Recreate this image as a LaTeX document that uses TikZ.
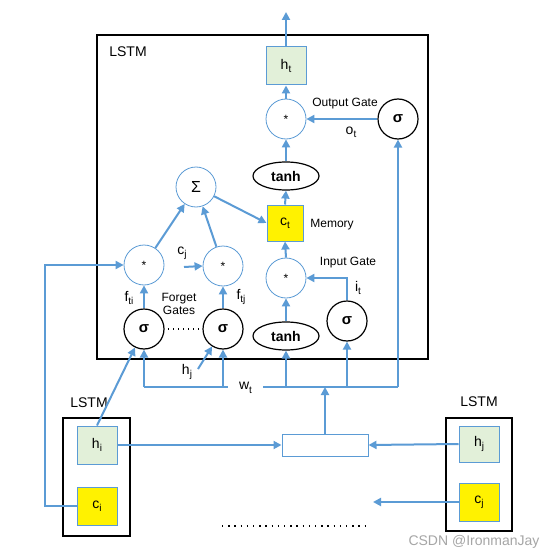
\documentclass[tikz,border=0pt]{standalone}
\usepackage{fontspec}
\setmainfont{Liberation Sans}
\usetikzlibrary{arrows.meta,shapes.geometric}
\definecolor{lb}{HTML}{5B9BD5}
\definecolor{hg}{HTML}{E2F0D9}
\definecolor{wm}{HTML}{A6A6A6}
\newcommand{\sbx}[1]{\raisebox{-0.45ex}{\fontsize{10}{10}\selectfont #1}}
\begin{document}
\begin{tikzpicture}[x=1pt,y=-1pt,
 conn/.style={draw=lb,line width=2pt},
 arr/.style={conn,-{Triangle[length=8pt,width=8pt]}},
 mul/.style={circle,draw=lb,line width=0.8pt,minimum size=40pt,inner sep=0pt,font=\fontsize{12}{12}\selectfont},
 sig/.style={circle,draw=black,line width=1.2pt,minimum size=40pt,inner sep=0pt,font=\fontsize{15}{15}\selectfont\bfseries},
 tnh/.style={ellipse,draw=black,line width=1.2pt,minimum width=66pt,minimum height=28pt,inner sep=0pt,font=\fontsize{14}{14}\selectfont\bfseries},
 hbox/.style={rectangle,draw=lb,line width=1pt,fill=hg,minimum width=40pt,minimum height=38pt,inner sep=0pt,font=\fontsize{14}{14}\selectfont},
 cbox/.style={rectangle,draw=lb,line width=1pt,fill=yellow,minimum width=40pt,minimum height=38pt,inner sep=0pt,font=\fontsize{14}{14}\selectfont},
 lbl/.style={font=\fontsize{12}{12}\selectfont,inner sep=0pt},
 sym/.style={font=\fontsize{14}{14}\selectfont,inner sep=0pt},
 lstmlbl/.style={font=\fontsize{14}{14}\selectfont,inner sep=0pt},
 frame/.style={rectangle,draw=black,line width=1.8pt,inner sep=0pt}
]
\useasboundingbox (0,0) rectangle (559,559);
\fill[white] (0,0) rectangle (559,559);

% main LSTM frame
\node[frame,minimum width=331pt,minimum height=324pt] (main) at (262.5,197) {};
\node[lstmlbl] (mainlbl) at (128,52) {LSTM};

% nodes inside
\node[hbox] (ht) at (286,66) {h\sbx{t}};
\node[mul] (mt) at (286,119) {*};
\node[sig] (so) at (398,119) {σ};
\node[tnh] (tt) at (286,176) {tanh};
\node[mul,font=\fontsize{16}{16}\selectfont] (sum) at (196,187) {Σ};
\node[cbox,minimum width=36pt,minimum height=36pt] (ct) at (285,223) {c\sbx{t}};
\node[mul] (mL) at (144,265) {*};
\node[mul] (mR) at (223,266) {*};
\node[mul] (mI) at (286,278) {*};
\node[sig] (fL) at (144,329) {σ};
\node[sig] (fR) at (223,329) {σ};
\node[tnh] (tb) at (286,336) {tanh};
\node[sig] (si) at (347,321) {σ};

% labels
\node[lbl] (og) at (345,104) {Output Gate};
\node[sym] (ot) at (351,132) {o\sbx{t}};
\node[lbl] (mem) at (332,225) {Memory};
\node[lbl] (ig) at (348,263) {Input Gate};
\node[sym] (it) at (358,288) {i\sbx{t}};
\node[sym] (cjl) at (182,253) {c\sbx{j}};
\node[sym] (fti) at (129,298) {f\sbx{ti}};
\node[sym] (ftj) at (241,297) {f\sbx{tj}};
\node[lbl,align=center] (fg) at (179,304) {Forget\\[1pt]Gates};
\node[sym] (hjl) at (187,372) {h\sbx{j}};
\draw[black,line width=1.3pt,dash pattern=on 1.3pt off 3.7pt] (168,329) -- (199,329);

% bus
\coordinate (bus) at (0,387);
\coordinate (top) at (286,12);
\coordinate (cjin) at (184,267);
\coordinate (hjin) at (198,369);

% connectors inside
\draw[arr] (ht.north) -- (top);
\draw[arr] (mt.north) -- (ht.south);
\draw[arr] (so.west) -- (mt.east);
\draw[arr] (tt.north) -- (mt.south);
\draw[arr] (ct.north) -- (tt.south);
\draw[arr] (sum) -- (ct.west);
\draw[arr] (mL) -- (sum);
\draw[arr] (mR) -- (sum);
\draw[arr] (mI.north) -- (ct.south);
\draw[arr] (tb.north) -- (mI.south);
\draw[arr] (si.north) |- (mI.east);
\draw[arr] (fL.north) -- (mL.south);
\draw[arr] (fR.north) -- (mR.south);
\draw[arr] (cjin) -- (mR.west);
\draw[arr] (hjin) -- (fR);

\draw[conn] (fL.south |- bus) -- (so.south |- bus);
\node[fill=white,minimum width=35pt,minimum height=12pt,inner sep=0pt,font=\fontsize{14}{14}\selectfont] (wt) at (245.5,388) {w\sbx{t}};
\draw[arr] (fL.south |- bus) -- (fL.south);
\draw[arr] (fR.south |- bus) -- (fR.south);
\draw[arr] (tb.south |- bus) -- (tb.south);
\draw[arr] (si.south |- bus) -- (si.south);
\draw[arr] (so.south |- bus) -- (so.south);

% lower part
\node[rectangle,draw=lb,line width=1pt,minimum width=86pt,minimum height=22pt,inner sep=0pt] (mid) at (325,445) {};
\draw[arr] (mid.north) -- (mid.north |- bus);

\node[frame,minimum width=67pt,minimum height=118pt] (lbox) at (96.5,477) {};
\node[lstmlbl] (llbl) at (89,403) {LSTM};
\node[hbox] (hi) at (97,445) {h\sbx{i}};
\node[cbox] (ci) at (97,506) {c\sbx{i}};

\node[frame,minimum width=66pt,minimum height=113pt] (rbox) at (479,474.5) {};
\node[lstmlbl] (rlbl) at (479,402) {LSTM};
\node[hbox,minimum height=36pt] (hj) at (479,444) {h\sbx{j}};
\node[cbox] (cj) at (479,502) {c\sbx{j}};
\coordinate (cjout) at (373,502);

\draw[arr] (hi.east) -- (mid.west);
\draw[arr] (hj.west) -- (mid.east);
\draw[arr] (cj.west) -- (cjout);
\draw[arr] (hi.north) -- (fL);
\draw[arr] (ci.west) -- ++(-32,0) |- (mL.west);

\draw[black,line width=1.3pt,dash pattern=on 1.3pt off 4.9pt] (222,526) -- (366,526);

\node[font=\fontsize{14}{14}\selectfont,text=wm,inner sep=0pt] (wmark) at (474,542) {CSDN @IronmanJay};
\end{tikzpicture}
\end{document}
